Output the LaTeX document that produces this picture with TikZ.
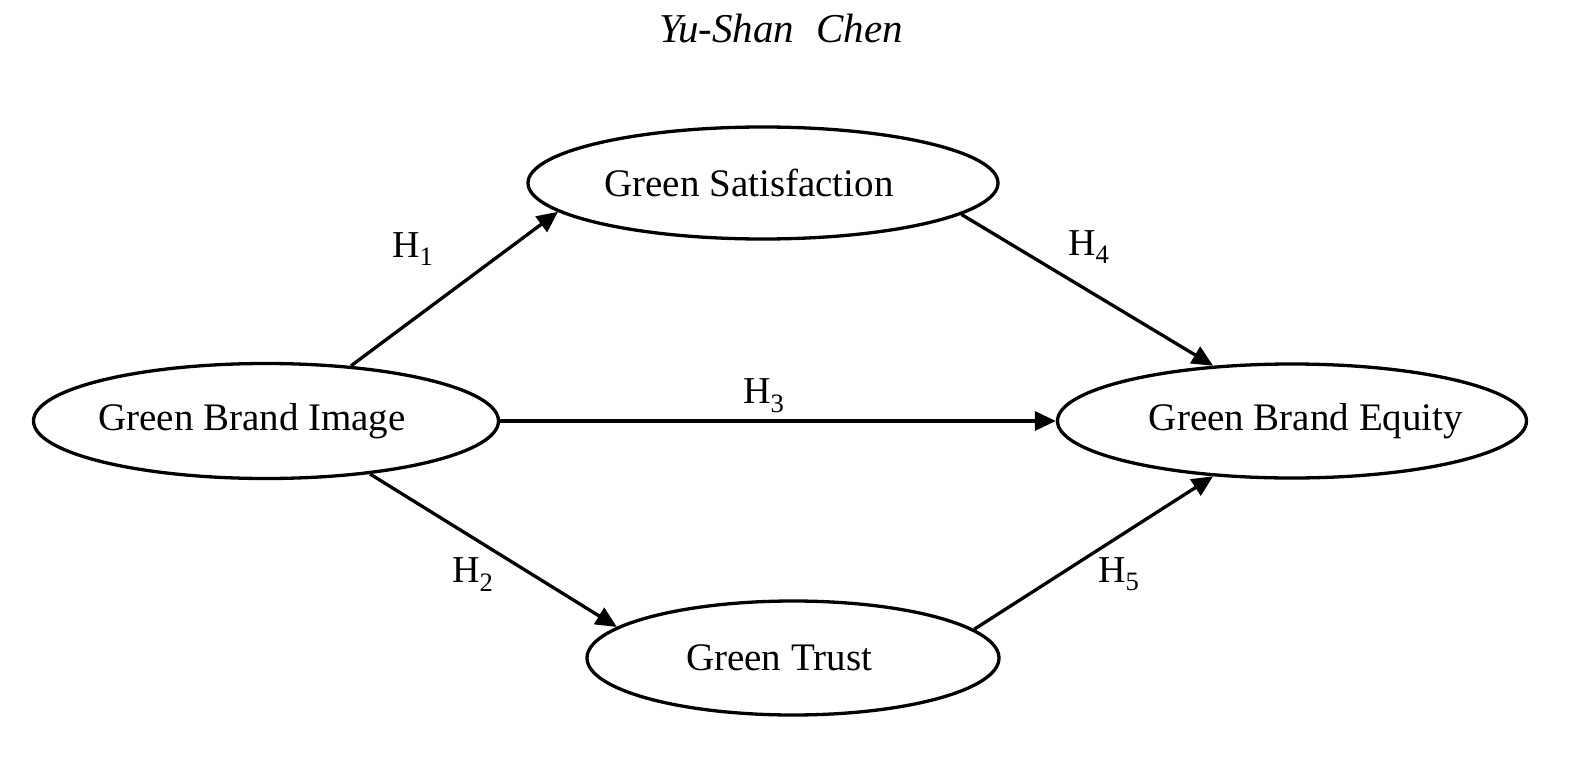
\documentclass[tikz,border=0pt]{standalone}
\usepackage{fontspec}
\setmainfont{Liberation Serif}
\usetikzlibrary{shapes.geometric,arrows.meta}
\newcommand{\shiftedtext}[2]{\raisebox{-4pt}{\makebox[0pt]{\hspace{#1}#2\hspace{-#1}}}}
\begin{document}
\begin{tikzpicture}[x=1pt,y=-1pt,
  construct/.style={draw, line width=3.3pt, ellipse, inner sep=0pt, font=\fontsize{39}{46}\selectfont},
  arrowline/.style={line width=3.3pt, -{Triangle[length=21pt,width=19pt]}},
  hyp/.style={inner sep=0pt, anchor=base west, font=\fontsize{38}{46}\selectfont}]
\fill[white] (0,0) rectangle (1572,760);
\useasboundingbox (0,0) rectangle (1572,760);
\node[anchor=base, inner sep=0pt, font=\fontsize{41}{48}\selectfont\itshape] (title) at (781,43) {Yu-Shan\hspace{22pt}Chen};
\node[construct, minimum width=465pt, minimum height=115pt] (gbi) at (266,421) {\shiftedtext{-14pt}{Green Brand Image}};
\node[construct, minimum width=470pt, minimum height=112pt] (gs) at (763,183) {\shiftedtext{-14pt}{Green Satisfaction}};
\node[construct, minimum width=469pt, minimum height=114pt] (gbe) at (1292,421) {\shiftedtext{14pt}{Green Brand Equity}};
\node[construct, minimum width=412pt, minimum height=114pt] (gt) at (793,658) {\shiftedtext{-14pt}{Green Trust}};
\draw[arrowline] (gbi.33.5) -- (gs.188.6);
\draw[arrowline] (gs.351.5) -- (gbe.145.6);
\draw[arrowline] (gbi.east) -- (gbe.west);
\draw[arrowline] (gbi.333) -- (gt.170.1);
\draw[arrowline] (gt.9.8) -- (gbe.215.9);
\node[hyp] (h1) at (392,257) {H\textsubscript{1}};
\node[hyp] (h4) at (1068,255) {H\textsubscript{4}};
\node[hyp] (h3) at (743,403) {H\textsubscript{3}};
\node[hyp] (h2) at (452,582) {H\textsubscript{2}};
\node[hyp] (h5) at (1098,582) {H\textsubscript{5}};
\end{tikzpicture}
\end{document}
